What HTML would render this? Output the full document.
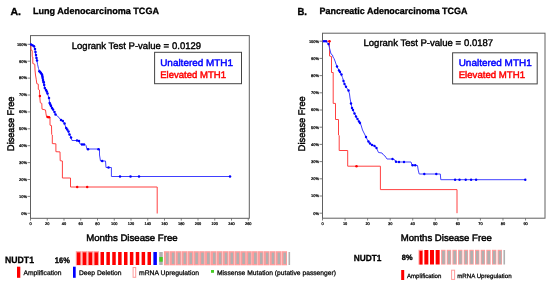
<!DOCTYPE html>
<html><head><meta charset="utf-8"><title>MTH1 survival</title>
<style>
html,body{margin:0;padding:0;background:#fff;}
body{width:550px;height:284px;overflow:hidden;}
svg{display:block;font-family:"Liberation Sans", Arial, sans-serif;text-rendering:geometricPrecision;}
</style></head><body>
<svg width="550" height="284" viewBox="0 0 550 284">
<rect width="550" height="284" fill="#fff"/>
<text x="10.5" y="14.8" font-size="10.2" stroke="#000" stroke-width="0.35" font-weight="bold" textLength="10.5" lengthAdjust="spacingAndGlyphs">A.</text>
<text x="33" y="13.7" font-size="9.2" stroke="#000" stroke-width="0.3" font-weight="bold" textLength="126" lengthAdjust="spacingAndGlyphs">Lung Adenocarcinoma TCGA</text>
<text x="297.5" y="14.9" font-size="10.2" stroke="#000" stroke-width="0.35" font-weight="bold" textLength="9.5" lengthAdjust="spacingAndGlyphs">B.</text>
<text x="319.5" y="13.7" font-size="9.2" stroke="#000" stroke-width="0.3" font-weight="bold" textLength="148" lengthAdjust="spacingAndGlyphs">Pancreatic Adenocarcinoma TCGA</text>
<rect x="30.5" y="35.6" width="218.8" height="182.70000000000002" fill="none" stroke="#606060" stroke-width="1"/>
<line x1="27.5" y1="213.30" x2="30.5" y2="213.30" stroke="#606060" stroke-width="0.8"/>
<text x="26.9" y="214.65" font-size="3.9" stroke="#000" stroke-width="0.22" text-anchor="end">0%</text>
<line x1="27.5" y1="196.40" x2="30.5" y2="196.40" stroke="#606060" stroke-width="0.8"/>
<text x="26.9" y="197.75" font-size="3.9" stroke="#000" stroke-width="0.22" text-anchor="end">10%</text>
<line x1="27.5" y1="179.50" x2="30.5" y2="179.50" stroke="#606060" stroke-width="0.8"/>
<text x="26.9" y="180.85" font-size="3.9" stroke="#000" stroke-width="0.22" text-anchor="end">20%</text>
<line x1="27.5" y1="162.60" x2="30.5" y2="162.60" stroke="#606060" stroke-width="0.8"/>
<text x="26.9" y="163.95" font-size="3.9" stroke="#000" stroke-width="0.22" text-anchor="end">30%</text>
<line x1="27.5" y1="145.70" x2="30.5" y2="145.70" stroke="#606060" stroke-width="0.8"/>
<text x="26.9" y="147.05" font-size="3.9" stroke="#000" stroke-width="0.22" text-anchor="end">40%</text>
<line x1="27.5" y1="128.80" x2="30.5" y2="128.80" stroke="#606060" stroke-width="0.8"/>
<text x="26.9" y="130.15" font-size="3.9" stroke="#000" stroke-width="0.22" text-anchor="end">50%</text>
<line x1="27.5" y1="111.90" x2="30.5" y2="111.90" stroke="#606060" stroke-width="0.8"/>
<text x="26.9" y="113.25" font-size="3.9" stroke="#000" stroke-width="0.22" text-anchor="end">60%</text>
<line x1="27.5" y1="95.00" x2="30.5" y2="95.00" stroke="#606060" stroke-width="0.8"/>
<text x="26.9" y="96.35" font-size="3.9" stroke="#000" stroke-width="0.22" text-anchor="end">70%</text>
<line x1="27.5" y1="78.10" x2="30.5" y2="78.10" stroke="#606060" stroke-width="0.8"/>
<text x="26.9" y="79.45" font-size="3.9" stroke="#000" stroke-width="0.22" text-anchor="end">80%</text>
<line x1="27.5" y1="61.20" x2="30.5" y2="61.20" stroke="#606060" stroke-width="0.8"/>
<text x="26.9" y="62.55" font-size="3.9" stroke="#000" stroke-width="0.22" text-anchor="end">90%</text>
<line x1="27.5" y1="44.30" x2="30.5" y2="44.30" stroke="#606060" stroke-width="0.8"/>
<text x="26.9" y="45.65" font-size="3.9" stroke="#000" stroke-width="0.22" text-anchor="end">100%</text>
<line x1="30.50" y1="218.3" x2="30.50" y2="220.60000000000002" stroke="#606060" stroke-width="0.8"/>
<text x="30.5" y="224.70000000000002" font-size="3.9" stroke="#000" stroke-width="0.22" text-anchor="middle">0</text>
<line x1="47.25" y1="218.3" x2="47.25" y2="220.60000000000002" stroke="#606060" stroke-width="0.8"/>
<text x="47.25" y="224.70000000000002" font-size="3.9" stroke="#000" stroke-width="0.22" text-anchor="middle">20</text>
<line x1="64.00" y1="218.3" x2="64.00" y2="220.60000000000002" stroke="#606060" stroke-width="0.8"/>
<text x="64.0" y="224.70000000000002" font-size="3.9" stroke="#000" stroke-width="0.22" text-anchor="middle">40</text>
<line x1="80.75" y1="218.3" x2="80.75" y2="220.60000000000002" stroke="#606060" stroke-width="0.8"/>
<text x="80.75" y="224.70000000000002" font-size="3.9" stroke="#000" stroke-width="0.22" text-anchor="middle">60</text>
<line x1="97.50" y1="218.3" x2="97.50" y2="220.60000000000002" stroke="#606060" stroke-width="0.8"/>
<text x="97.5" y="224.70000000000002" font-size="3.9" stroke="#000" stroke-width="0.22" text-anchor="middle">80</text>
<line x1="114.25" y1="218.3" x2="114.25" y2="220.60000000000002" stroke="#606060" stroke-width="0.8"/>
<text x="114.25" y="224.70000000000002" font-size="3.9" stroke="#000" stroke-width="0.22" text-anchor="middle">100</text>
<line x1="131.00" y1="218.3" x2="131.00" y2="220.60000000000002" stroke="#606060" stroke-width="0.8"/>
<text x="131.0" y="224.70000000000002" font-size="3.9" stroke="#000" stroke-width="0.22" text-anchor="middle">120</text>
<line x1="147.75" y1="218.3" x2="147.75" y2="220.60000000000002" stroke="#606060" stroke-width="0.8"/>
<text x="147.75" y="224.70000000000002" font-size="3.9" stroke="#000" stroke-width="0.22" text-anchor="middle">140</text>
<line x1="164.50" y1="218.3" x2="164.50" y2="220.60000000000002" stroke="#606060" stroke-width="0.8"/>
<text x="164.5" y="224.70000000000002" font-size="3.9" stroke="#000" stroke-width="0.22" text-anchor="middle">160</text>
<line x1="181.25" y1="218.3" x2="181.25" y2="220.60000000000002" stroke="#606060" stroke-width="0.8"/>
<text x="181.25" y="224.70000000000002" font-size="3.9" stroke="#000" stroke-width="0.22" text-anchor="middle">180</text>
<line x1="198.00" y1="218.3" x2="198.00" y2="220.60000000000002" stroke="#606060" stroke-width="0.8"/>
<text x="198.0" y="224.70000000000002" font-size="3.9" stroke="#000" stroke-width="0.22" text-anchor="middle">200</text>
<line x1="214.75" y1="218.3" x2="214.75" y2="220.60000000000002" stroke="#606060" stroke-width="0.8"/>
<text x="214.75" y="224.70000000000002" font-size="3.9" stroke="#000" stroke-width="0.22" text-anchor="middle">220</text>
<line x1="231.50" y1="218.3" x2="231.50" y2="220.60000000000002" stroke="#606060" stroke-width="0.8"/>
<text x="231.5" y="224.70000000000002" font-size="3.9" stroke="#000" stroke-width="0.22" text-anchor="middle">240</text>
<line x1="248.25" y1="218.3" x2="248.25" y2="220.60000000000002" stroke="#606060" stroke-width="0.8"/>
<text x="248.25" y="224.70000000000002" font-size="3.9" stroke="#000" stroke-width="0.22" text-anchor="middle">260</text>
<rect x="322.5" y="33.2" width="222.5" height="185.0" fill="none" stroke="#606060" stroke-width="1"/>
<line x1="319.5" y1="213.20" x2="322.5" y2="213.20" stroke="#606060" stroke-width="0.8"/>
<text x="318.9" y="214.55" font-size="3.9" stroke="#000" stroke-width="0.22" text-anchor="end">0%</text>
<line x1="319.5" y1="196.00" x2="322.5" y2="196.00" stroke="#606060" stroke-width="0.8"/>
<text x="318.9" y="197.35" font-size="3.9" stroke="#000" stroke-width="0.22" text-anchor="end">10%</text>
<line x1="319.5" y1="178.80" x2="322.5" y2="178.80" stroke="#606060" stroke-width="0.8"/>
<text x="318.9" y="180.15" font-size="3.9" stroke="#000" stroke-width="0.22" text-anchor="end">20%</text>
<line x1="319.5" y1="161.60" x2="322.5" y2="161.60" stroke="#606060" stroke-width="0.8"/>
<text x="318.9" y="162.95" font-size="3.9" stroke="#000" stroke-width="0.22" text-anchor="end">30%</text>
<line x1="319.5" y1="144.40" x2="322.5" y2="144.40" stroke="#606060" stroke-width="0.8"/>
<text x="318.9" y="145.75" font-size="3.9" stroke="#000" stroke-width="0.22" text-anchor="end">40%</text>
<line x1="319.5" y1="127.20" x2="322.5" y2="127.20" stroke="#606060" stroke-width="0.8"/>
<text x="318.9" y="128.55" font-size="3.9" stroke="#000" stroke-width="0.22" text-anchor="end">50%</text>
<line x1="319.5" y1="110.00" x2="322.5" y2="110.00" stroke="#606060" stroke-width="0.8"/>
<text x="318.9" y="111.35" font-size="3.9" stroke="#000" stroke-width="0.22" text-anchor="end">60%</text>
<line x1="319.5" y1="92.80" x2="322.5" y2="92.80" stroke="#606060" stroke-width="0.8"/>
<text x="318.9" y="94.15" font-size="3.9" stroke="#000" stroke-width="0.22" text-anchor="end">70%</text>
<line x1="319.5" y1="75.60" x2="322.5" y2="75.60" stroke="#606060" stroke-width="0.8"/>
<text x="318.9" y="76.95" font-size="3.9" stroke="#000" stroke-width="0.22" text-anchor="end">80%</text>
<line x1="319.5" y1="58.40" x2="322.5" y2="58.40" stroke="#606060" stroke-width="0.8"/>
<text x="318.9" y="59.75" font-size="3.9" stroke="#000" stroke-width="0.22" text-anchor="end">90%</text>
<line x1="319.5" y1="41.20" x2="322.5" y2="41.20" stroke="#606060" stroke-width="0.8"/>
<text x="318.9" y="42.55" font-size="3.9" stroke="#000" stroke-width="0.22" text-anchor="end">100%</text>
<line x1="322.50" y1="218.2" x2="322.50" y2="220.5" stroke="#606060" stroke-width="0.8"/>
<text x="322.5" y="224.6" font-size="3.9" stroke="#000" stroke-width="0.22" text-anchor="middle">0</text>
<line x1="345.06" y1="218.2" x2="345.06" y2="220.5" stroke="#606060" stroke-width="0.8"/>
<text x="345.06" y="224.6" font-size="3.9" stroke="#000" stroke-width="0.22" text-anchor="middle">10</text>
<line x1="367.62" y1="218.2" x2="367.62" y2="220.5" stroke="#606060" stroke-width="0.8"/>
<text x="367.62" y="224.6" font-size="3.9" stroke="#000" stroke-width="0.22" text-anchor="middle">20</text>
<line x1="390.18" y1="218.2" x2="390.18" y2="220.5" stroke="#606060" stroke-width="0.8"/>
<text x="390.18" y="224.6" font-size="3.9" stroke="#000" stroke-width="0.22" text-anchor="middle">30</text>
<line x1="412.74" y1="218.2" x2="412.74" y2="220.5" stroke="#606060" stroke-width="0.8"/>
<text x="412.74" y="224.6" font-size="3.9" stroke="#000" stroke-width="0.22" text-anchor="middle">40</text>
<line x1="435.30" y1="218.2" x2="435.30" y2="220.5" stroke="#606060" stroke-width="0.8"/>
<text x="435.3" y="224.6" font-size="3.9" stroke="#000" stroke-width="0.22" text-anchor="middle">50</text>
<line x1="457.86" y1="218.2" x2="457.86" y2="220.5" stroke="#606060" stroke-width="0.8"/>
<text x="457.86" y="224.6" font-size="3.9" stroke="#000" stroke-width="0.22" text-anchor="middle">60</text>
<line x1="480.42" y1="218.2" x2="480.42" y2="220.5" stroke="#606060" stroke-width="0.8"/>
<text x="480.42" y="224.6" font-size="3.9" stroke="#000" stroke-width="0.22" text-anchor="middle">70</text>
<line x1="502.98" y1="218.2" x2="502.98" y2="220.5" stroke="#606060" stroke-width="0.8"/>
<text x="502.98" y="224.6" font-size="3.9" stroke="#000" stroke-width="0.22" text-anchor="middle">80</text>
<line x1="525.54" y1="218.2" x2="525.54" y2="220.5" stroke="#606060" stroke-width="0.8"/>
<text x="525.54" y="224.6" font-size="3.9" stroke="#000" stroke-width="0.22" text-anchor="middle">90</text>
<text x="14.3" y="150.9" font-size="9.6" stroke="#000" stroke-width="0.45" textLength="54.3" lengthAdjust="spacingAndGlyphs" transform="rotate(-90 14.3 150.9)">Disease Free</text>
<text x="305.3" y="151.2" font-size="9.6" stroke="#000" stroke-width="0.45" textLength="54.9" lengthAdjust="spacingAndGlyphs" transform="rotate(-90 305.3 151.2)">Disease Free</text>
<text x="86.2" y="241.3" font-size="9.5" stroke="#000" stroke-width="0.45" textLength="91.4" lengthAdjust="spacingAndGlyphs">Months Disease Free</text>
<text x="400.8" y="240.8" font-size="9.5" stroke="#000" stroke-width="0.45" textLength="91" lengthAdjust="spacingAndGlyphs">Months Disease Free</text>
<text x="71.8" y="48.8" font-size="9.6" stroke="#000" stroke-width="0.4" textLength="97.2" lengthAdjust="spacingAndGlyphs">Logrank Test P-value =</text>
<text x="172" y="48.8" font-size="9.6" stroke="#000" stroke-width="0.4" textLength="29" lengthAdjust="spacingAndGlyphs">0.0129</text>
<text x="363.5" y="45.8" font-size="9.6" stroke="#000" stroke-width="0.4" textLength="97.5" lengthAdjust="spacingAndGlyphs">Logrank Test P-value =</text>
<text x="464" y="45.8" font-size="9.6" stroke="#000" stroke-width="0.4" textLength="29" lengthAdjust="spacingAndGlyphs">0.0187</text>
<rect x="154.6" y="52.3" width="86.9" height="31.4" fill="#fff" stroke="#444" stroke-width="1"/>
<text x="160.2" y="66.1" font-size="9.6" stroke="#0000ff" stroke-width="0.45" fill="#0000ff" textLength="72.9" lengthAdjust="spacingAndGlyphs">Unaltered MTH1</text>
<text x="160.2" y="78.2" font-size="9.6" stroke="#ff0000" stroke-width="0.45" fill="#ff0000" textLength="65.8" lengthAdjust="spacingAndGlyphs">Elevated MTH1</text>
<rect x="452.6" y="52.8" width="84.6" height="31.1" fill="#fff" stroke="#444" stroke-width="1"/>
<text x="458.7" y="66.1" font-size="9.6" stroke="#0000ff" stroke-width="0.45" fill="#0000ff" textLength="73.0" lengthAdjust="spacingAndGlyphs">Unaltered MTH1</text>
<text x="458.7" y="78.2" font-size="9.6" stroke="#ff0000" stroke-width="0.45" fill="#ff0000" textLength="66.3" lengthAdjust="spacingAndGlyphs">Elevated MTH1</text>
<polyline points="30.5,44.3 31,44.8 31,50 32.2,50.5 32.2,56.7 32.8,57 32.8,63.5 34.8,64.3 35,70 35.5,75 36.3,79.8 36.8,83.7 38.3,84.2 38.3,89.3 39.5,90 39.6,94.8 40.3,102.8 41.8,103.4 42,109.1 45.5,110 46,113.9 46.6,116.8 50,117.3 50,125.2 51.5,125.6 51.7,134.5 52.3,135 52.3,143.6 55.9,143.8 55.9,151.7 60,151.9 60.2,160.7 62.4,161 62.4,178 70.5,178 70.5,187 157.2,187 157.2,213.5" fill="none" stroke="#ff4040" stroke-width="1.0" stroke-linejoin="miter" />
<polyline points="30.5,44.3 32.2,45.2 33.8,46.2 34.9,48.9 35.4,52.6 35.9,55.7 36.5,58.4 37,61 37.5,64.2 38.5,68.5 39.5,71 41.5,74 42.5,75.5 42.5,78 43.5,81 44,84 44.5,87 45,89 46.5,91.5 47.5,94 49,98 49.5,102 50.5,105 51.5,107.5 53.5,110.5 55.5,114.5 57.5,116 61,120 63,121 64.5,123.5 66,128 68,131 69.5,134.5 71,137.5 72,140.5 79,140.5 80,144 85,144.5 86,145.5 87,149 99.5,149 99.5,155 100.5,161 105.5,161 106,167.5 111.4,167.5 111.4,176.5 230,176.5" fill="none" stroke="#4040ff" stroke-width="1.0" stroke-linejoin="miter" />
<circle cx="31" cy="44.5" r="1.25" fill="#0000ff"/>
<circle cx="32.5" cy="45.2" r="1.25" fill="#0000ff"/>
<circle cx="34" cy="46.3" r="1.25" fill="#0000ff"/>
<circle cx="35" cy="49" r="1.25" fill="#0000ff"/>
<circle cx="35.5" cy="52" r="1.25" fill="#0000ff"/>
<circle cx="36" cy="55" r="1.25" fill="#0000ff"/>
<circle cx="36.5" cy="58" r="1.25" fill="#0000ff"/>
<circle cx="37" cy="60.5" r="1.25" fill="#0000ff"/>
<circle cx="39.3" cy="71.2" r="1.25" fill="#0000ff"/>
<circle cx="40.1" cy="72.1" r="1.25" fill="#0000ff"/>
<circle cx="40.9" cy="73" r="1.25" fill="#0000ff"/>
<circle cx="41.6" cy="74" r="1.25" fill="#0000ff"/>
<circle cx="42.1" cy="75.1" r="1.25" fill="#0000ff"/>
<circle cx="42.4" cy="76.5" r="1.25" fill="#0000ff"/>
<circle cx="42.6" cy="78" r="1.25" fill="#0000ff"/>
<circle cx="43" cy="80" r="1.25" fill="#0000ff"/>
<circle cx="43.4" cy="81.8" r="1.25" fill="#0000ff"/>
<circle cx="43.8" cy="82.5" r="1.25" fill="#0000ff"/>
<circle cx="44.2" cy="85" r="1.25" fill="#0000ff"/>
<circle cx="44.8" cy="88" r="1.25" fill="#0000ff"/>
<circle cx="46" cy="90" r="1.25" fill="#0000ff"/>
<circle cx="46.8" cy="91.5" r="1.25" fill="#0000ff"/>
<circle cx="47.5" cy="93.5" r="1.25" fill="#0000ff"/>
<circle cx="49" cy="98" r="1.25" fill="#0000ff"/>
<circle cx="49.6" cy="103" r="1.25" fill="#0000ff"/>
<circle cx="50.3" cy="104.5" r="1.25" fill="#0000ff"/>
<circle cx="51" cy="106" r="1.25" fill="#0000ff"/>
<circle cx="52" cy="108" r="1.25" fill="#0000ff"/>
<circle cx="53" cy="109.5" r="1.25" fill="#0000ff"/>
<circle cx="54.5" cy="112" r="1.25" fill="#0000ff"/>
<circle cx="55.5" cy="114.5" r="1.25" fill="#0000ff"/>
<circle cx="61" cy="120" r="1.25" fill="#0000ff"/>
<circle cx="62.8" cy="121" r="1.25" fill="#0000ff"/>
<circle cx="64.5" cy="123.5" r="1.25" fill="#0000ff"/>
<circle cx="66.2" cy="128" r="1.25" fill="#0000ff"/>
<circle cx="67.2" cy="129.5" r="1.25" fill="#0000ff"/>
<circle cx="68.5" cy="131.5" r="1.25" fill="#0000ff"/>
<circle cx="69.5" cy="134.5" r="1.25" fill="#0000ff"/>
<circle cx="71" cy="137.5" r="1.25" fill="#0000ff"/>
<circle cx="77" cy="140.5" r="1.25" fill="#0000ff"/>
<circle cx="79" cy="141" r="1.25" fill="#0000ff"/>
<circle cx="82" cy="144.5" r="1.25" fill="#0000ff"/>
<circle cx="84" cy="144.5" r="1.25" fill="#0000ff"/>
<circle cx="88" cy="149.2" r="1.25" fill="#0000ff"/>
<circle cx="98.5" cy="149.2" r="1.25" fill="#0000ff"/>
<circle cx="102.2" cy="161" r="1.25" fill="#0000ff"/>
<circle cx="108.5" cy="167.5" r="1.25" fill="#0000ff"/>
<circle cx="120" cy="176.5" r="1.25" fill="#0000ff"/>
<circle cx="130.5" cy="176.5" r="1.25" fill="#0000ff"/>
<circle cx="139" cy="176.5" r="1.25" fill="#0000ff"/>
<circle cx="230" cy="176.5" r="1.25" fill="#0000ff"/>
<circle cx="39.9" cy="96.1" r="1.25" fill="#ff0000"/>
<circle cx="47.6" cy="117" r="1.25" fill="#ff0000"/>
<circle cx="49" cy="117.2" r="1.25" fill="#ff0000"/>
<circle cx="77.2" cy="187" r="1.25" fill="#ff0000"/>
<circle cx="87.2" cy="187" r="1.25" fill="#ff0000"/>
<polyline points="322.5,41.2 329.5,41.2 329.5,56 331.5,56.5 331.5,72.5 333.2,72.5 333.2,103.4 335.5,103.4 335.5,119.5 338.5,119.5 338.5,135 339.2,135.5 339.2,150.5 347.7,150.5 347.7,166.2 380.4,166.2 380.4,189.6 457,189.6 457,213.2" fill="none" stroke="#ff4040" stroke-width="1.0" stroke-linejoin="miter" />
<polyline points="322.5,41.2 326,41.3 327.5,43 328.5,44 330,50 331,54 332.5,55 333,57 334,58.5 335,61 336,64 337,66.5 339,70.5 340,72 341,74 342.5,77.5 343.5,81 344.5,84 346,86.8 348.5,90.5 349.5,94 350,98 351,103.5 352,108 353.5,111 354.5,113.5 356,116.5 358,120 360,123 361,125 362.5,130 364.5,134 366,137 368.5,142 370,143.5 372,145 374.5,145.5 376.5,148 378.5,152.5 382,153 383.5,155 385,156 387,159 392.5,159 395,160 396,162 411,162 412,165 417.5,165.5 418.2,170 419.2,174 440.3,174 440.8,179.7 525.3,179.7" fill="none" stroke="#4040ff" stroke-width="1.0" stroke-linejoin="miter" />
<circle cx="324" cy="41.2" r="1.2" fill="#0000ff"/>
<circle cx="326" cy="41.3" r="1.2" fill="#0000ff"/>
<circle cx="328.5" cy="44" r="1.2" fill="#0000ff"/>
<circle cx="337" cy="66.5" r="1.2" fill="#0000ff"/>
<circle cx="339" cy="70.5" r="1.2" fill="#0000ff"/>
<circle cx="340" cy="72" r="1.2" fill="#0000ff"/>
<circle cx="341.5" cy="74.5" r="1.2" fill="#0000ff"/>
<circle cx="343.5" cy="81" r="1.2" fill="#0000ff"/>
<circle cx="344.5" cy="84" r="1.2" fill="#0000ff"/>
<circle cx="346" cy="86.8" r="1.2" fill="#0000ff"/>
<circle cx="348.5" cy="90.5" r="1.2" fill="#0000ff"/>
<circle cx="351" cy="103.5" r="1.2" fill="#0000ff"/>
<circle cx="352" cy="108" r="1.2" fill="#0000ff"/>
<circle cx="353" cy="110" r="1.2" fill="#0000ff"/>
<circle cx="354.5" cy="113.5" r="1.2" fill="#0000ff"/>
<circle cx="356" cy="116.5" r="1.2" fill="#0000ff"/>
<circle cx="357.5" cy="119" r="1.2" fill="#0000ff"/>
<circle cx="359" cy="121.5" r="1.2" fill="#0000ff"/>
<circle cx="360" cy="123" r="1.2" fill="#0000ff"/>
<circle cx="366" cy="137" r="1.2" fill="#0000ff"/>
<circle cx="368.5" cy="141.5" r="1.2" fill="#0000ff"/>
<circle cx="370" cy="143.5" r="1.2" fill="#0000ff"/>
<circle cx="372" cy="145" r="1.2" fill="#0000ff"/>
<circle cx="374.5" cy="146" r="1.2" fill="#0000ff"/>
<circle cx="376.5" cy="148" r="1.2" fill="#0000ff"/>
<circle cx="392.5" cy="159" r="1.2" fill="#0000ff"/>
<circle cx="396" cy="161.8" r="1.2" fill="#0000ff"/>
<circle cx="399" cy="162" r="1.2" fill="#0000ff"/>
<circle cx="404" cy="162" r="1.2" fill="#0000ff"/>
<circle cx="412.6" cy="165.3" r="1.2" fill="#0000ff"/>
<circle cx="415.2" cy="165.3" r="1.2" fill="#0000ff"/>
<circle cx="424.3" cy="174" r="1.2" fill="#0000ff"/>
<circle cx="436.3" cy="174" r="1.2" fill="#0000ff"/>
<circle cx="455.1" cy="179.7" r="1.2" fill="#0000ff"/>
<circle cx="459.5" cy="179.7" r="1.2" fill="#0000ff"/>
<circle cx="465.7" cy="179.7" r="1.2" fill="#0000ff"/>
<circle cx="471.1" cy="179.7" r="1.2" fill="#0000ff"/>
<circle cx="476.1" cy="179.7" r="1.2" fill="#0000ff"/>
<circle cx="525.3" cy="179.7" r="1.2" fill="#0000ff"/>
<circle cx="329.5" cy="41.2" r="1.25" fill="#ff0000"/>
<circle cx="356.5" cy="166.2" r="1.25" fill="#ff0000"/>
<rect x="75.80" y="251.20" width="5.60" height="14.10" fill="#ff9c9c"/>
<rect x="76.90" y="252.40" width="3.40" height="12.60" fill="#ff0000"/>
<rect x="81.67" y="251.20" width="5.60" height="14.10" fill="#ff9c9c"/>
<rect x="82.78" y="252.40" width="3.40" height="12.60" fill="#ff0000"/>
<rect x="87.55" y="251.20" width="5.60" height="14.10" fill="#ff9c9c"/>
<rect x="88.65" y="252.40" width="3.40" height="12.60" fill="#ff0000"/>
<rect x="93.42" y="251.20" width="5.60" height="14.10" fill="#ff9c9c"/>
<rect x="94.53" y="252.40" width="3.40" height="12.60" fill="#ff0000"/>
<rect x="100.50" y="252.00" width="3.50" height="13.00" fill="#ff0000"/>
<rect x="106.38" y="252.00" width="3.50" height="13.00" fill="#ff0000"/>
<rect x="112.25" y="252.00" width="3.50" height="13.00" fill="#ff0000"/>
<rect x="118.12" y="252.00" width="3.50" height="13.00" fill="#ff0000"/>
<rect x="124.00" y="252.00" width="3.50" height="13.00" fill="#ff0000"/>
<rect x="129.88" y="252.00" width="3.50" height="13.00" fill="#ff0000"/>
<rect x="135.75" y="252.00" width="3.50" height="13.00" fill="#ff0000"/>
<rect x="141.62" y="252.00" width="3.50" height="13.00" fill="#ff0000"/>
<rect x="147.50" y="252.00" width="3.50" height="13.00" fill="#ff0000"/>
<rect x="153.38" y="252.00" width="3.50" height="13.00" fill="#0000ff"/>
<rect x="159.25" y="252.00" width="3.50" height="13.00" fill="#b0b0b0"/>
<rect x="159.25" y="257.00" width="3.50" height="4.70" fill="#44cc22"/>
<rect x="163.93" y="251.20" width="5.60" height="14.10" fill="#ff9c9c"/>
<rect x="165.93" y="252.60" width="2.60" height="11.40" fill="#b0b0b0"/>
<rect x="169.80" y="251.20" width="5.60" height="14.10" fill="#ff9c9c"/>
<rect x="171.80" y="252.60" width="2.60" height="11.40" fill="#b0b0b0"/>
<rect x="175.68" y="251.20" width="5.60" height="14.10" fill="#ff9c9c"/>
<rect x="177.68" y="252.60" width="2.60" height="11.40" fill="#b0b0b0"/>
<rect x="181.55" y="251.20" width="5.60" height="14.10" fill="#ff9c9c"/>
<rect x="183.55" y="252.60" width="2.60" height="11.40" fill="#b0b0b0"/>
<rect x="187.43" y="251.20" width="5.60" height="14.10" fill="#ff9c9c"/>
<rect x="189.43" y="252.60" width="2.60" height="11.40" fill="#b0b0b0"/>
<rect x="193.30" y="251.20" width="5.60" height="14.10" fill="#ff9c9c"/>
<rect x="195.30" y="252.60" width="2.60" height="11.40" fill="#b0b0b0"/>
<rect x="199.18" y="251.20" width="5.60" height="14.10" fill="#ff9c9c"/>
<rect x="201.18" y="252.60" width="2.60" height="11.40" fill="#b0b0b0"/>
<rect x="205.05" y="251.20" width="5.60" height="14.10" fill="#ff9c9c"/>
<rect x="207.05" y="252.60" width="2.60" height="11.40" fill="#b0b0b0"/>
<rect x="210.93" y="251.20" width="5.60" height="14.10" fill="#ff9c9c"/>
<rect x="212.93" y="252.60" width="2.60" height="11.40" fill="#b0b0b0"/>
<rect x="216.80" y="251.20" width="5.60" height="14.10" fill="#ff9c9c"/>
<rect x="218.80" y="252.60" width="2.60" height="11.40" fill="#b0b0b0"/>
<rect x="222.68" y="251.20" width="5.60" height="14.10" fill="#ff9c9c"/>
<rect x="224.68" y="252.60" width="2.60" height="11.40" fill="#b0b0b0"/>
<rect x="228.55" y="251.20" width="5.60" height="14.10" fill="#ff9c9c"/>
<rect x="230.55" y="252.60" width="2.60" height="11.40" fill="#b0b0b0"/>
<rect x="234.43" y="251.20" width="5.60" height="14.10" fill="#ff9c9c"/>
<rect x="236.43" y="252.60" width="2.60" height="11.40" fill="#b0b0b0"/>
<rect x="240.30" y="251.20" width="5.60" height="14.10" fill="#ff9c9c"/>
<rect x="242.30" y="252.60" width="2.60" height="11.40" fill="#b0b0b0"/>
<rect x="246.18" y="251.20" width="5.60" height="14.10" fill="#ff9c9c"/>
<rect x="248.18" y="252.60" width="2.60" height="11.40" fill="#b0b0b0"/>
<rect x="252.05" y="251.20" width="5.60" height="14.10" fill="#ff9c9c"/>
<rect x="254.05" y="252.60" width="2.60" height="11.40" fill="#b0b0b0"/>
<rect x="257.93" y="251.20" width="5.60" height="14.10" fill="#ff9c9c"/>
<rect x="259.93" y="252.60" width="2.60" height="11.40" fill="#b0b0b0"/>
<rect x="263.80" y="251.20" width="5.60" height="14.10" fill="#ff9c9c"/>
<rect x="265.80" y="252.60" width="2.60" height="11.40" fill="#b0b0b0"/>
<rect x="269.68" y="251.20" width="5.60" height="14.10" fill="#ff9c9c"/>
<rect x="271.68" y="252.60" width="2.60" height="11.40" fill="#b0b0b0"/>
<rect x="275.55" y="251.20" width="5.60" height="14.10" fill="#ff9c9c"/>
<rect x="277.55" y="252.60" width="2.60" height="11.40" fill="#b0b0b0"/>
<rect x="281.43" y="251.20" width="5.60" height="14.10" fill="#ff9c9c"/>
<rect x="283.43" y="252.60" width="2.60" height="11.40" fill="#b0b0b0"/>
<rect x="288.50" y="252.00" width="1.60" height="13.00" fill="#b0b0b0"/>
<rect x="418.50" y="249.80" width="4.40" height="14.80" fill="#ff9c9c"/>
<rect x="419.50" y="250.90" width="2.90" height="13.60" fill="#ff0000"/>
<rect x="424.35" y="250.00" width="4.00" height="14.50" fill="#ff0000"/>
<rect x="430.00" y="250.00" width="4.00" height="14.50" fill="#ff0000"/>
<rect x="435.65" y="250.00" width="4.00" height="14.50" fill="#ff0000"/>
<rect x="441.10" y="249.80" width="4.40" height="14.80" fill="#ff9c9c"/>
<rect x="442.10" y="250.90" width="2.70" height="13.00" fill="#b0b0b0"/>
<rect x="446.75" y="249.80" width="4.40" height="14.80" fill="#ff9c9c"/>
<rect x="447.75" y="250.90" width="2.70" height="13.00" fill="#b0b0b0"/>
<rect x="452.40" y="249.80" width="4.40" height="14.80" fill="#ff9c9c"/>
<rect x="453.40" y="250.90" width="2.70" height="13.00" fill="#b0b0b0"/>
<rect x="458.05" y="249.80" width="4.40" height="14.80" fill="#ff9c9c"/>
<rect x="459.05" y="250.90" width="2.70" height="13.00" fill="#b0b0b0"/>
<rect x="463.70" y="249.80" width="4.40" height="14.80" fill="#ff9c9c"/>
<rect x="464.70" y="250.90" width="2.70" height="13.00" fill="#b0b0b0"/>
<rect x="469.35" y="249.80" width="4.40" height="14.80" fill="#ff9c9c"/>
<rect x="470.35" y="250.90" width="2.70" height="13.00" fill="#b0b0b0"/>
<rect x="475.00" y="249.80" width="4.40" height="14.80" fill="#ff9c9c"/>
<rect x="476.00" y="250.90" width="2.70" height="13.00" fill="#b0b0b0"/>
<rect x="480.65" y="249.80" width="4.40" height="14.80" fill="#ff9c9c"/>
<rect x="481.65" y="250.90" width="2.70" height="13.00" fill="#b0b0b0"/>
<rect x="486.30" y="249.80" width="4.40" height="14.80" fill="#ff9c9c"/>
<rect x="487.30" y="250.90" width="2.70" height="13.00" fill="#b0b0b0"/>
<rect x="491.95" y="249.80" width="4.40" height="14.80" fill="#ff9c9c"/>
<rect x="492.95" y="250.90" width="2.70" height="13.00" fill="#b0b0b0"/>
<rect x="497.60" y="249.80" width="4.40" height="14.80" fill="#ff9c9c"/>
<rect x="498.60" y="250.90" width="2.70" height="13.00" fill="#b0b0b0"/>
<rect x="503.45" y="250.00" width="1.60" height="14.50" fill="#b0b0b0"/>
<text x="5" y="262.8" font-size="9.2" stroke="#000" stroke-width="0.3" font-weight="bold" textLength="29" lengthAdjust="spacingAndGlyphs">NUDT1</text>
<text x="54.8" y="262.5" font-size="8" stroke="#000" stroke-width="0.35" font-weight="bold" textLength="15" lengthAdjust="spacingAndGlyphs">16%</text>
<text x="353.8" y="260.8" font-size="8.8" stroke="#000" stroke-width="0.3" font-weight="bold" textLength="27.7" lengthAdjust="spacingAndGlyphs">NUDT1</text>
<text x="401.8" y="260.1" font-size="7.6" stroke="#000" stroke-width="0.35" font-weight="bold" textLength="10.7" lengthAdjust="spacingAndGlyphs">8%</text>
<rect x="17" y="266.7" width="3.3" height="11.1" fill="#ff0000"/>
<text x="23.5" y="275.3" font-size="6.7" stroke="#000" stroke-width="0.25" textLength="38" lengthAdjust="spacingAndGlyphs">Amplification</text>
<rect x="73" y="266.7" width="2.7" height="11.1" fill="#0000ff"/>
<text x="79" y="275.1" font-size="6.6" stroke="#000" stroke-width="0.25" textLength="42.6" lengthAdjust="spacingAndGlyphs">Deep Deletion</text>
<rect x="133.1" y="267.5" width="2.6" height="9.8" fill="#fff" stroke="#ff9c9c" stroke-width="1"/>
<text x="139" y="275.1" font-size="6.6" stroke="#000" stroke-width="0.25" textLength="60" lengthAdjust="spacingAndGlyphs">mRNA Upregulation</text>
<rect x="211" y="270" width="3" height="2.8" fill="#44cc22"/>
<text x="217" y="275.1" font-size="6.6" stroke="#000" stroke-width="0.25" textLength="119" lengthAdjust="spacingAndGlyphs">Missense Mutation (putative passenger)</text>
<rect x="401.2" y="270" width="3" height="10" fill="#ff0000"/>
<text x="407" y="277.8" font-size="6.1" stroke="#000" stroke-width="0.25" textLength="34.3" lengthAdjust="spacingAndGlyphs">Amplification</text>
<rect x="451.6" y="270.2" width="3" height="9.2" fill="#fff" stroke="#ff9c9c" stroke-width="1"/>
<text x="457.2" y="277.8" font-size="6.1" stroke="#000" stroke-width="0.25" textLength="54.4" lengthAdjust="spacingAndGlyphs">mRNA Upregulation</text>
</svg>
</body></html>
